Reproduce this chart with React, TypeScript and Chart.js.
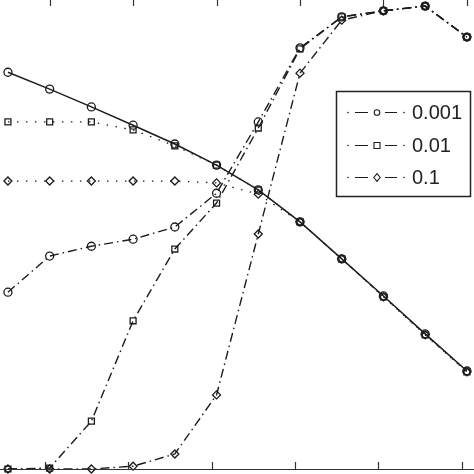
import React, { useEffect, useRef } from "react";
import { Chart, registerables } from "chart.js";

Chart.register(...registerables);

// x positions (sample index)
const xValues = [0, 1, 2, 3, 4, 5, 6, 7, 8, 9, 10, 11];
const xTicks = [1, 3, 5, 7, 9, 11];
const legendLabels = ["0.001", "0.01", "0.1"];

// rising curves (dash-dot)
const rise001 = [0.377, 0.454, 0.475, 0.49, 0.516, 0.588, 0.74, 0.898, 0.964, 0.977, 0.987, 0.921];
const rise01 = [0.0, 0.002, 0.102, 0.316, 0.469, 0.567, 0.727, 0.896, 0.964, 0.977, 0.987, 0.921];
const rise1 = [0.0, 0.0, 0.0, 0.006, 0.032, 0.158, 0.501, 0.844, 0.957, 0.977, 0.987, 0.921];

// falling curves
const fall001 = [0.846, 0.81, 0.772, 0.733, 0.693, 0.648, 0.595, 0.527, 0.448, 0.369, 0.288, 0.209];
const fall01 = [0.74, 0.74, 0.74, 0.723, 0.689, 0.648, 0.595, 0.527, 0.448, 0.367, 0.286, 0.207];
const fall1 = [0.614, 0.614, 0.614, 0.614, 0.614, 0.61, 0.586, 0.527, 0.448, 0.367, 0.286, 0.207];

const INK = "#1c1c1c";
const DASHDOT = [9, 4, 1.5, 4];
const DOTTED = [1.5, 7.5];

const pts = (ys: number[]) => xValues.map((x, i) => ({ x, y: ys[i] }));

function drawMarker(ctx: CanvasRenderingContext2D, style: string, r: number, x: number, y: number) {
  ctx.save();
  ctx.strokeStyle = INK;
  ctx.lineWidth = 1.1;
  ctx.fillStyle = "#fff";
  ctx.beginPath();
  if (style === "circle") {
    ctx.arc(x, y, r, 0, Math.PI * 2);
  } else if (style === "rect") {
    ctx.rect(x - r, y - r, 2 * r, 2 * r);
  } else {
    ctx.moveTo(x, y - r * 1.2);
    ctx.lineTo(x + r, y);
    ctx.lineTo(x, y + r * 1.2);
    ctx.lineTo(x - r, y);
    ctx.closePath();
  }
  ctx.fill();
  ctx.stroke();
  ctx.restore();
}

const framePlugin = {
  id: "frame",
  afterDatasetsDraw(chart: any) {
    const { ctx, chartArea, scales } = chart;
    const xs = scales.x;
    ctx.save();
    ctx.strokeStyle = "#333";
    ctx.lineWidth = 1.2;
    // bottom axis line
    ctx.beginPath();
    ctx.moveTo(chartArea.left, chartArea.bottom + 0.5);
    ctx.lineTo(chartArea.right, chartArea.bottom + 0.5);
    ctx.stroke();
    // ticks (inward)
    for (const t of xTicks) {
      const px = Math.round(xs.getPixelForValue(t)) + 0.5;
      ctx.beginPath();
      ctx.moveTo(px, chartArea.top);
      ctx.lineTo(px, chartArea.top + 6);
      ctx.stroke();
      const pb = px - 5;
      ctx.beginPath();
      ctx.moveTo(pb, chartArea.bottom);
      ctx.lineTo(pb, chartArea.bottom - 7);
      ctx.stroke();
    }
    // legend
    const bx = 336.5, by = 91.5, bw = 134, bh = 105;
    ctx.fillStyle = "#fff";
    ctx.fillRect(bx, by, bw, bh);
    ctx.lineWidth = 1.5;
    ctx.strokeStyle = "#222";
    ctx.strokeRect(bx, by, bw, bh);
    const styles = ["circle", "rect", "rectRot"];
    const radii = [2.8, 3.0, 3.2];
    const rows = [112, 145, 177];
    legendLabels.forEach((label, i) => {
      const y = rows[i] + 0.5;
      ctx.strokeStyle = INK;
      ctx.fillStyle = INK;
      ctx.lineWidth = 1.2;
      ctx.beginPath();
      ctx.arc(348, y, 0.8, 0, Math.PI * 2);
      ctx.fill();
      ctx.beginPath();
      ctx.moveTo(355, y);
      ctx.lineTo(368, y);
      ctx.moveTo(385, y);
      ctx.lineTo(397, y);
      ctx.stroke();
      ctx.beginPath();
      ctx.arc(404, y, 0.8, 0, Math.PI * 2);
      ctx.fill();
      drawMarker(ctx, styles[i], radii[i], 377, y);
      ctx.fillStyle = "#222";
      ctx.font = "20px 'Liberation Sans', Arial, sans-serif";
      ctx.textBaseline = "middle";
      ctx.textAlign = "left";
      ctx.fillText(label, 412, y + 1);
    });
    ctx.restore();
  },
};

export default function App() {
  const ref = useRef<HTMLCanvasElement | null>(null);
  useEffect(() => {
    if (!ref.current) return;
    const base = {
      borderColor: INK,
      pointBorderColor: INK,
      pointBackgroundColor: "rgba(0,0,0,0)",
      pointBorderWidth: 1.3,
      tension: 0,
      fill: false,
      clip: false as any,
    };
    const chart = new Chart(ref.current, {
      type: "line",
      data: {
        datasets: [
          { ...base, label: "f0.1", data: pts(fall1), borderWidth: 1.3, borderDash: DOTTED, pointStyle: "rectRot", pointRadius: 4 },
          { ...base, label: "f0.01", data: pts(fall01), borderWidth: 1.3, borderDash: DOTTED, pointStyle: "rect", pointRadius: 4.2 },
          { ...base, label: "f0.001", data: pts(fall001), borderWidth: 1.5, pointStyle: "circle", pointRadius: 4 },
          { ...base, label: legendLabels[2], data: pts(rise1), borderWidth: 1.4, borderDash: DASHDOT, pointStyle: "rectRot", pointRadius: 4 },
          { ...base, label: legendLabels[1], data: pts(rise01), borderWidth: 1.4, borderDash: DASHDOT, pointStyle: "rect", pointRadius: 4.2 },
          { ...base, label: legendLabels[0], data: pts(rise001), borderWidth: 1.4, borderDash: DASHDOT, pointStyle: "circle", pointRadius: 4 },
        ],
      },
      options: {
        animation: false,
        responsive: false,
        layout: { autoPadding: false, padding: { left: 0, right: 0, top: 0, bottom: 5 } },
        plugins: { legend: { display: false }, tooltip: { enabled: false } },
        scales: {
          x: { type: "linear", min: -0.19, max: 11.17, display: false },
          y: { type: "linear", min: 0, max: 1, display: false },
        },
      },
      plugins: [framePlugin],
    });
    return () => chart.destroy();
  }, []);
  return (
    <div style={{ position: "fixed", left: 0, top: 0, width: 474, height: 474, background: "#fff" }}>
      <canvas ref={ref} width={474} height={474} style={{ display: "block" }} />
    </div>
  );
}
